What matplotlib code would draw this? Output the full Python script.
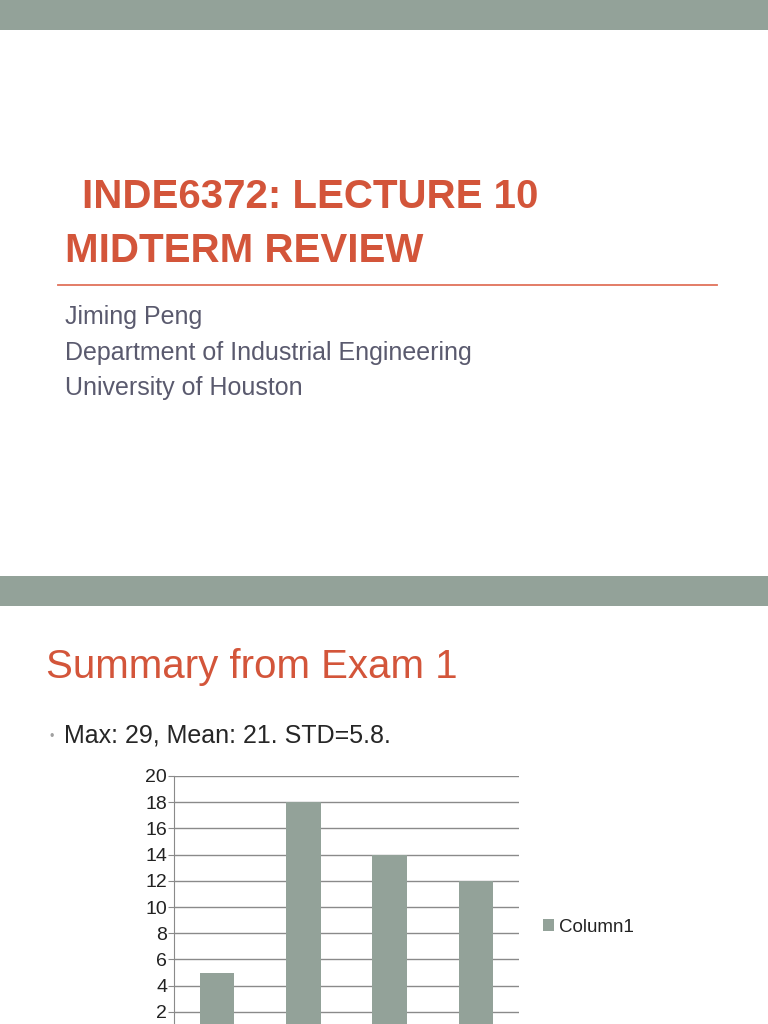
import matplotlib
matplotlib.use("Agg")
import matplotlib.pyplot as plt
from matplotlib.patches import Rectangle
from matplotlib.lines import Line2D

plt.rcParams['font.family'] = ['Liberation Sans', 'DejaVu Sans']

# data
categories = ['1', '2', '3', '4']
column1 = [5, 18, 14, 12]
yticks = [2, 4, 6, 8, 10, 12, 14, 16, 18, 20]
series_name = 'Column1'

title_lines = ['INDE6372: LECTURE 10', 'MIDTERM REVIEW']
subtitle_lines = ['Jiming Peng', 'Department of Industrial Engineering', 'University of Houston']
slide2_title = 'Summary from Exam 1'
bullet = 'Max: 29, Mean: 21. STD=5.8.'

W, H = 768, 1024
GREEN = '#93a299'
RED = '#d3553a'

fig = plt.figure(figsize=(W / 100, H / 100), dpi=100)
fig.patch.set_facecolor('white')

def fx(x):
    return x / W

def fy(y):
    return 1 - y / H

# gray bands at top of each slide
fig.add_artist(Rectangle((0, fy(30)), 1, 30 / H, transform=fig.transFigure, color=GREEN, lw=0))
fig.add_artist(Rectangle((0, fy(606)), 1, 30 / H, transform=fig.transFigure, color=GREEN, lw=0))

# slide 1
fig.text(fx(82), fy(208), title_lines[0], color=RED, fontsize=29, fontweight='bold', va='baseline')
fig.text(fx(65), fy(262), title_lines[1], color=RED, fontsize=29, fontweight='bold', va='baseline')
fig.add_artist(Line2D([fx(58), fx(717)], [fy(285), fy(285)], transform=fig.transFigure,
                      color='#e0725a', lw=1.3))
for s, yb in zip(subtitle_lines, [324, 360, 395]):
    fig.text(fx(65), fy(yb), s, color='#5a5a6e', fontsize=18, va='baseline')

# slide 2
fig.text(fx(46), fy(678), slide2_title, color=RED, fontsize=29, va='baseline')
fig.text(fx(52), fy(737), u'\u2022', color='#a0a0a0', fontsize=9, va='center', ha='center')
fig.text(fx(64), fy(743), bullet, color='#262626', fontsize=18, va='baseline')

# chart (bottom runs off the page like the reference)
left, right, top, bottom = 174, 519, 776, 1038
ax = fig.add_axes([fx(left), fy(bottom), (right - left) / W, (bottom - top) / H])
x = range(len(categories))
ax.bar(x, column1, width=0.4, color=GREEN, label=series_name, zorder=3)
ax.set_xlim(-0.5, len(categories) - 0.5)
ax.set_ylim(0, 20)
ax.set_yticks(yticks)
ax.set_yticklabels([str(v) for v in yticks], fontsize=14, color='#222222')
ax.yaxis.grid(True, color='#8a8a8a', lw=1, zorder=0)
ax.set_xticks([])
for sp in ['top', 'right', 'bottom']:
    ax.spines[sp].set_visible(False)
ax.spines['left'].set_color('#8a8a8a')
ax.tick_params(axis='y', length=4, color='#8a8a8a', pad=1)

leg = fig.legend(loc='center left', bbox_to_anchor=(fx(543), fy(927)), frameon=False,
                 fontsize=13.5, handlelength=0.6, handleheight=0.6, handletextpad=0.25,
                 borderpad=0, borderaxespad=0)
for t in leg.get_texts():
    t.set_color('#222222')

fig.savefig('out.png', dpi=100, facecolor='white')
